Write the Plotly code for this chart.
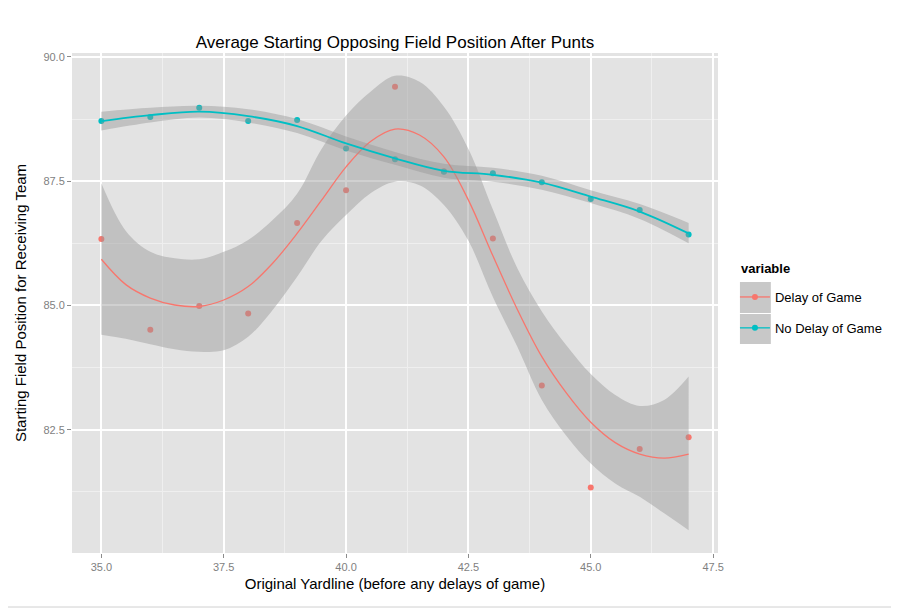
import plotly.graph_objects as go

# observed averages by original yardline
yardline = [35, 36, 37, 38, 39, 40, 41, 42, 43, 44, 45, 46, 47]
delay = [86.34, 84.51, 84.99, 84.84, 86.66, 87.32, 89.40, 87.70, 86.35, 83.39, 81.34, 82.11, 82.35]
no_delay = [88.71, 88.79, 88.98, 88.71, 88.73, 88.16, 87.94, 87.69, 87.66, 87.48, 87.14, 86.92, 86.43]

# loess fit + 95% band for Delay of Game (read at half-yard steps)
smooth_x = [35 + i * 0.5 for i in range(25)]
delay_fit = [85.93, 85.42, 85.15, 85.01, 84.98, 85.11, 85.38, 85.85, 86.45, 87.12, 87.79, 88.30, 88.55,
             88.43, 87.99, 87.12, 86.00, 84.92, 83.97, 83.24, 82.65, 82.24, 82.01, 81.93, 82.01]
delay_hi = [87.46, 86.50, 86.08, 85.95, 85.93, 86.08, 86.32, 86.72, 87.25, 88.15, 88.82, 89.30, 89.62,
            89.50, 89.00, 88.15, 86.93, 85.75, 84.88, 84.20, 83.62, 83.20, 82.98, 83.10, 83.57]
delay_lo = [84.41, 84.33, 84.22, 84.12, 84.07, 84.10, 84.37, 84.91, 85.58, 86.30, 86.82, 87.26, 87.49,
            87.42, 87.02, 86.30, 85.17, 84.17, 83.10, 82.38, 81.82, 81.42, 81.15, 80.82, 80.48]

# loess fit + band for No Delay of Game (read at each yard)
nodelay_fit = [88.71, 88.83, 88.90, 88.81, 88.61, 88.26, 87.96, 87.71, 87.63, 87.47, 87.19, 86.89, 86.45]
nodelay_hi = [88.90, 88.98, 89.02, 88.95, 88.75, 88.40, 88.09, 87.85, 87.77, 87.61, 87.32, 87.04, 86.66]
nodelay_lo = [88.52, 88.68, 88.78, 88.68, 88.47, 88.12, 87.83, 87.57, 87.49, 87.33, 87.06, 86.74, 86.25]

RED = '#F8766D'
CYAN = '#00BFC4'
BAND = 'rgba(150,150,150,0.45)'

fig = go.Figure()

# points first, smooths drawn on top (like ggplot layer order)
fig.add_trace(go.Scatter(x=yardline, y=delay, mode='markers', marker=dict(color=RED, size=6),
                         showlegend=False))
fig.add_trace(go.Scatter(x=yardline, y=no_delay, mode='markers', marker=dict(color=CYAN, size=6),
                         showlegend=False))

def add_smooth(x, fit, hi, lo, color, width):
    fig.add_trace(go.Scatter(x=x, y=lo, mode='lines', line=dict(width=0, shape='spline'),
                             hoverinfo='skip', showlegend=False))
    fig.add_trace(go.Scatter(x=x, y=hi, mode='lines', line=dict(width=0, shape='spline'),
                             fill='tonexty', fillcolor=BAND, hoverinfo='skip', showlegend=False))
    fig.add_trace(go.Scatter(x=x, y=fit, mode='lines', line=dict(color=color, width=width, shape='spline'),
                             showlegend=False))

add_smooth(smooth_x, delay_fit, delay_hi, delay_lo, RED, 1.3)
add_smooth(yardline, nodelay_fit, nodelay_hi, nodelay_lo, CYAN, 1.8)

# legend entries (line + dot keys)
fig.add_trace(go.Scatter(x=[None], y=[None], mode='lines+markers', name='Delay of Game', legendgroup='a',
                         line=dict(color=RED, width=1.3), marker=dict(color=RED, size=6)))
fig.add_trace(go.Scatter(x=[None], y=[None], mode='lines+markers', name='No Delay of Game', legendgroup='b',
                         line=dict(color=CYAN, width=1.3), marker=dict(color=CYAN, size=6)))

# the page body adds an 8px offset, so the figure is 8px smaller and everything is shifted back
OFF = 8
W, H = 899 - OFF, 613 - OFF
# panel on screen: left 72, right 720, top 53, bottom 553
L, R, T, B = 72 - OFF, 720 - OFF, 53 - OFF, 553 - OFF

def px_x(p):
    return (p - OFF - L) / (R - L)

def px_y(p):
    return 1 - (p - OFF - T) / (B - T)

shapes = [
    dict(type='rect', xref='paper', yref='paper', x0=px_x(742), x1=px_x(773), y0=px_y(313), y1=px_y(282),
         fillcolor='#C8C8C8', line=dict(width=0), layer='below'),
    dict(type='rect', xref='paper', yref='paper', x0=px_x(742), x1=px_x(773), y0=px_y(344), y1=px_y(314),
         fillcolor='#C8C8C8', line=dict(width=0), layer='below'),
    dict(type='line', xref='paper', yref='paper', x0=px_x(0), x1=px_x(899), y0=px_y(607), y1=px_y(607),
         line=dict(color='#D0D0D0', width=1)),
]

fig.update_layout(
    width=W, height=H,
    margin=dict(l=L, r=W - R, t=T, b=H - B),
    paper_bgcolor='white', plot_bgcolor='#E3E3E3',
    font=dict(family='Liberation Sans, Arial, sans-serif', color='black'),
    title=dict(text='Average Starting Opposing Field Position After Punts', x=0.5, xref='paper',
               xanchor='center', y=1 - (42 - OFF) / H, yref='container', yanchor='middle',
               font=dict(size=17, color='black')),
    xaxis=dict(range=[34.4, 47.6], tick0=35, dtick=2.5, tickformat='.1f', showline=False, zeroline=False,
               gridcolor='white', gridwidth=1.5, ticks='outside', ticklen=4, tickcolor='#8C8C8C',
               tickfont=dict(size=11, color='#7F7F7F'),
               minor=dict(tick0=35, dtick=1.25, showgrid=True, gridcolor='#EFEFEF', gridwidth=0.7),
               title=dict(text='Original Yardline (before any delays of game)', font=dict(size=15),
                          standoff=6)),
    yaxis=dict(range=[80.02, 90.08], tick0=82.5, dtick=2.5, tickformat='.1f', showline=False, zeroline=False,
               gridcolor='white', gridwidth=1.5, ticks='outside', ticklen=4, tickcolor='#8C8C8C',
               tickfont=dict(size=11, color='#7F7F7F'),
               minor=dict(tick0=82.5, dtick=1.25, showgrid=True, gridcolor='#EFEFEF', gridwidth=0.7),
               title=dict(text='Starting Field Position for Receiving Team', font=dict(size=15),
                          standoff=13)),
    legend=dict(font=dict(size=13), x=px_x(737), xanchor='left', y=px_y(282), yanchor='top',
                bgcolor='rgba(0,0,0,0)', itemwidth=30, tracegroupgap=11),
    annotations=[dict(text='<b>variable</b>', xref='paper', yref='paper', x=px_x(741), y=px_y(268),
                      xanchor='left', yanchor='middle', showarrow=False, font=dict(size=13))],
    shapes=shapes,
)

fig.write_html("out.html")
